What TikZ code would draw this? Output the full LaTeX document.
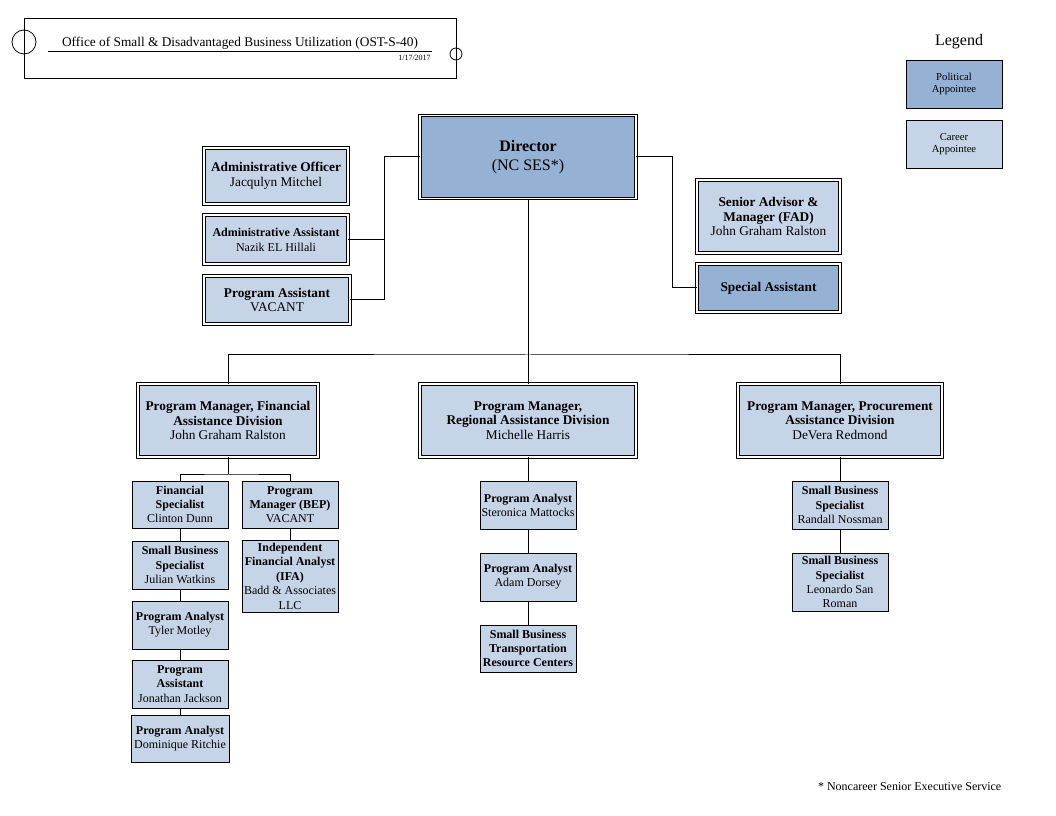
\documentclass[tikz,border=0pt]{standalone}
\usepackage{fontspec}
\setmainfont{Liberation Serif}
\usepackage{tikz}
\usetikzlibrary{positioning}
\definecolor{polblue}{RGB}{149,177,212}
\definecolor{carblue}{RGB}{198,212,232}
\tikzset{
    %Define style for political appointee boxes
    political/.style={
           rectangle,
           draw=black, line width=0.6pt,
           fill=polblue,
           align=center,
           inner sep=1pt,
           font=\fontsize{10}{10.9}\selectfont},
    %Define style for career appointee boxes
    career/.style={
           rectangle,
           draw=black, line width=0.6pt,
           fill=carblue,
           align=center,
           inner sep=1pt,
           font=\fontsize{10}{10.9}\selectfont},
    %Define style for the small staff boxes
    staff/.style={
           career,
           minimum width=72pt,
           minimum height=36pt,
           font=\fontsize{9}{10.6}\selectfont},
    %Double border of the upper boxes
    dbl/.style={
           double=white,
           double distance=1.4pt,
           line width=0.5pt},
    % Define connector style
    wire/.style={
           draw=black,
           line width=0.75pt}
}

\begin{document}
\begin{tikzpicture}[x=0.75pt,y=-0.75pt]
\useasboundingbox (0,0) rectangle (1056,816);
% header
\draw[line width=0.6pt] (24,18) rectangle (456,78);
\draw[line width=0.6pt] (24,42) circle[radius=9pt];
\draw[line width=0.6pt] (456,54) circle[radius=4.5pt];
\draw[line width=0.6pt] (48,51) -- (432,51);
\node[font=\fontsize{10}{12}\selectfont] (title) at (240,43.5) {Office of Small \& Disadvantaged Business Utilization (OST-S-40)};
\node[font=\fontsize{6}{7}\selectfont, anchor=north east, inner sep=0pt] (date) at (431,54.5) {1/17/2017};
% legend
\node[font=\fontsize{12}{14}\selectfont] (legend) at (959,41.5) {Legend};
\node[political, minimum width=72pt, minimum height=36pt, font=\fontsize{8}{9.5}\selectfont] (lpol) at (954,84) {Political\\Appointee};
\node[career, minimum width=72pt, minimum height=36pt, font=\fontsize{8}{9}\selectfont] (lcar) at (954,144) {Career\\Appointee};
% top level
\node[political, dbl, minimum width=162pt, minimum height=62.25pt, font=\fontsize{12}{14.3}\selectfont] (dir) at (528,157) {\textbf{Director}\\(NC SES*)};
\node[career, dbl, minimum width=108pt, minimum height=42pt] (aoff) at (276,176) {\textbf{Administrative Officer}\\Jacqulyn Mitchel};
\node[career, dbl, minimum width=108pt, minimum height=36.75pt, font=\fontsize{9}{11.2}\selectfont] (aasst) at (276,239.5) {\textbf{Administrative Assistant}\\Nazik EL Hillali};
\node[career, dbl, minimum width=109.5pt, minimum height=36pt] (passt) at (277,300) {\textbf{Program Assistant}\\VACANT};
\node[career, dbl, minimum width=107.25pt, minimum height=54.75pt] (sadv) at (768.5,216.5) {\textbf{Senior Advisor \&}\\\textbf{Manager (FAD)}\\John Graham Ralston};
\node[political, dbl, minimum width=107.25pt, minimum height=36pt] (spec) at (768.5,288) {\textbf{Special Assistant}};
% divisions
\node[career, dbl, minimum width=135pt, minimum height=54.75pt] (pmfin) at (228,420.5) {\textbf{Program Manager, Financial}\\\textbf{Assistance Division}\\John Graham Ralston};
\node[career, dbl, minimum width=162pt, minimum height=54.75pt] (pmreg) at (528,420.5) {\textbf{Program Manager,}\\\textbf{Regional Assistance Division}\\Michelle Harris};
\node[career, dbl, minimum width=153pt, minimum height=54.75pt] (pmproc) at (840,420.5) {\textbf{Program Manager, Procurement}\\\textbf{Assistance Division}\\DeVera Redmond};
% financial staff
\node[staff, minimum height=35.25pt] (finspec) at (180,504.5) {\textbf{Financial}\\\textbf{Specialist}\\Clinton Dunn};
\node[staff, minimum height=35.25pt] (bep) at (290,504.5) {\textbf{Program}\\\textbf{Manager (BEP)}\\VACANT};
\node[staff, minimum height=54pt, font=\fontsize{9}{10.9}\selectfont] (ifa) at (290,576) {\textbf{Independent}\\\textbf{Financial Analyst}\\\textbf{(IFA)}\\Badd \& Associates\\LLC};
\node[staff] (sbsjul) at (180,565) {\textbf{Small Business}\\\textbf{Specialist}\\Julian Watkins};
\node[staff] (patyl) at (180,625) {\textbf{Program Analyst}\\Tyler Motley};
\node[staff] (pajon) at (180,684) {\textbf{Program}\\\textbf{Assistant}\\Jonathan Jackson};
\node[staff, minimum width=73.5pt, minimum height=35.25pt] (padom) at (180,738.5) {\textbf{Program Analyst}\\Dominique Ritchie};
% regional staff
\node[staff] (paster) at (528,505) {\textbf{Program Analyst}\\Steronica Mattocks};
\node[staff] (paadam) at (528,577) {\textbf{Program Analyst}\\Adam Dorsey};
\node[staff, minimum height=35.25pt] (sbtrc) at (528,648.5) {\textbf{Small Business}\\\textbf{Transportation}\\\textbf{Resource Centers}};
% procurement staff
\node[staff] (sbsran) at (840,505) {\textbf{Small Business}\\\textbf{Specialist}\\Randall Nossman};
\node[staff, minimum height=43.5pt] (sbsleo) at (840,582) {\textbf{Small Business}\\\textbf{Specialist}\\Leonardo San\\Roman};
% footnote
\node[font=\fontsize{9}{11}\selectfont, anchor=east] (note) at (1006,787) {* Noncareer Senior Executive Service};
% connectors
\coordinate (lbus) at (384,0);
\coordinate (rbus) at (672,0);
\coordinate (divbus) at (0,355);
\coordinate (finbus) at (0,474);
\draw[wire] (dir.west) -| (lbus |- passt.east) -- (passt.east);
\draw[wire] (aasst.east) -- (lbus |- aasst.east);
\draw[wire] (dir.east) -| (rbus |- spec.west) -- (spec.west);
\draw[wire] (dir.south) -- (pmreg.north);
\draw[wire] (pmfin.north) |- (dir.south |- divbus) -| (pmproc.north);
\draw[wire] (pmfin.south) -- (pmfin.south |- finbus);
\draw[wire] (finspec.north) |- (pmfin.south |- finbus) -| (bep.north);
\draw[wire] (finspec) -- (sbsjul) -- (patyl) -- (pajon) -- (padom);
\draw[wire] (bep) -- (ifa);
\draw[wire] (pmreg) -- (paster) -- (paadam) -- (sbtrc);
\draw[wire] (pmproc) -- (sbsran) -- (sbsleo);
\end{tikzpicture}
\end{document}
